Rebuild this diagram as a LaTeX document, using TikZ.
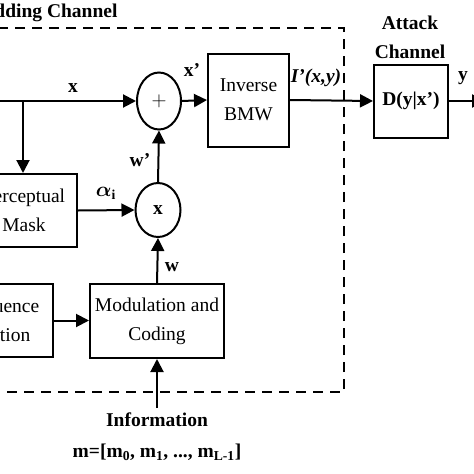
\documentclass[tikz,border=0pt]{standalone}
\usepackage{amsmath}
\usepackage{fontspec}
\setmainfont{Liberation Serif}
\usetikzlibrary{arrows.meta,shapes.geometric}

\tikzset{
  blk/.style={draw,line width=2pt,align=center,inner sep=0pt},
  opnode/.style={draw,ellipse,line width=2pt,inner sep=0pt,minimum width=44pt,minimum height=57pt},
  arr/.style={line width=2pt,-{Triangle[length=13pt,width=13pt]}},
  lbl/.style={font=\fontsize{19.5}{29}\selectfont\bfseries},
}

\begin{document}
\begin{tikzpicture}[x=1pt,y=-1pt,every node/.style={font=\fontsize{19.5}{29}\selectfont}]
        \clip (0,0) rectangle (474,474);
        % embedding channel frame
        \draw[line width=2.5pt,dash pattern=on 10pt off 7pt] (-20,28) rectangle (344,392);
        \node[lbl,anchor=base east] (title) at (121,17) {Embedding Channel};
        % blocks
        \node[opnode] (plus) at (159,101) {$+$};
        \node[opnode,minimum width=45pt,minimum height=54pt] (mult) at (158,210) {\bfseries x};
        \node[blk,minimum width=81pt,minimum height=93pt] (ibmw) at (248.5,100) {Inverse\\BMW};
        \node[blk,font=\fontsize{19.5}{29}\selectfont\bfseries,minimum width=74pt,minimum height=73pt] (attack) at (411,101) {D(y|x')};
        \node[lbl,align=center] (atitle) at (410,37) {Attack\\Channel};
        \node[blk,minimum width=106pt,minimum height=73pt] (mask) at (24,210.5) {Perceptual\\Mask};
        \node[blk,minimum width=132pt,minimum height=73pt] (seq) at (-13,320.5) {PN Sequence\\Generation};
        \node[blk,minimum width=134pt,minimum height=74pt] (modc) at (157,321) {Modulation and\\Coding};
        % free ends
        \coordinate (xin) at (-30,101);
        \coordinate (br) at (23,101);
        \coordinate (yout) at (485,101);
        \coordinate (info) at (157,408);
        % connectors
        \draw[arr] (xin) -- (plus.west);
        \draw[arr] (br) -- (br |- mask.north);
        \draw[arr] (plus.east) -- (ibmw.west);
        \draw[arr] (ibmw.east) -- (attack.west);
        \draw[arr] (attack.east) -- (yout);
        \draw[arr] (mask.east) -- (mult.west);
        \draw[arr] (mult.north) -- (plus.south);
        \draw[arr] (modc.north) -- (mult.south);
        \draw[arr] (seq.east) -- (seq.east -| modc.west);
        \draw[arr] (info) -- (modc.south);
        % labels
        \node[lbl] (lx) at (73,88) {x};
        \node[lbl] (lxp) at (192,70) {x'};
        \node[lbl] (lwp) at (140,160) {w'};
        \node[lbl] (lw) at (172,267) {w};
        \node[lbl] (lalpha) at (106,193) {$\boldsymbol{\alpha}_{\mathbf{i}}$};
        \node[font=\fontsize{19.5}{29}\selectfont\bfseries\itshape] (lxy) at (316,78) {I'(x,y)};
        \node[lbl] (ly) at (463,78) {y};
        \node[lbl] (linfo) at (157,420) {Information};
        \node[lbl] (lm) at (157,452) {m=[m$_{\mathbf{0}}$, m$_{\mathbf{1}}$, ..., m$_{\mathbf{L\text{-}1}}$]};
\end{tikzpicture}
\end{document}
